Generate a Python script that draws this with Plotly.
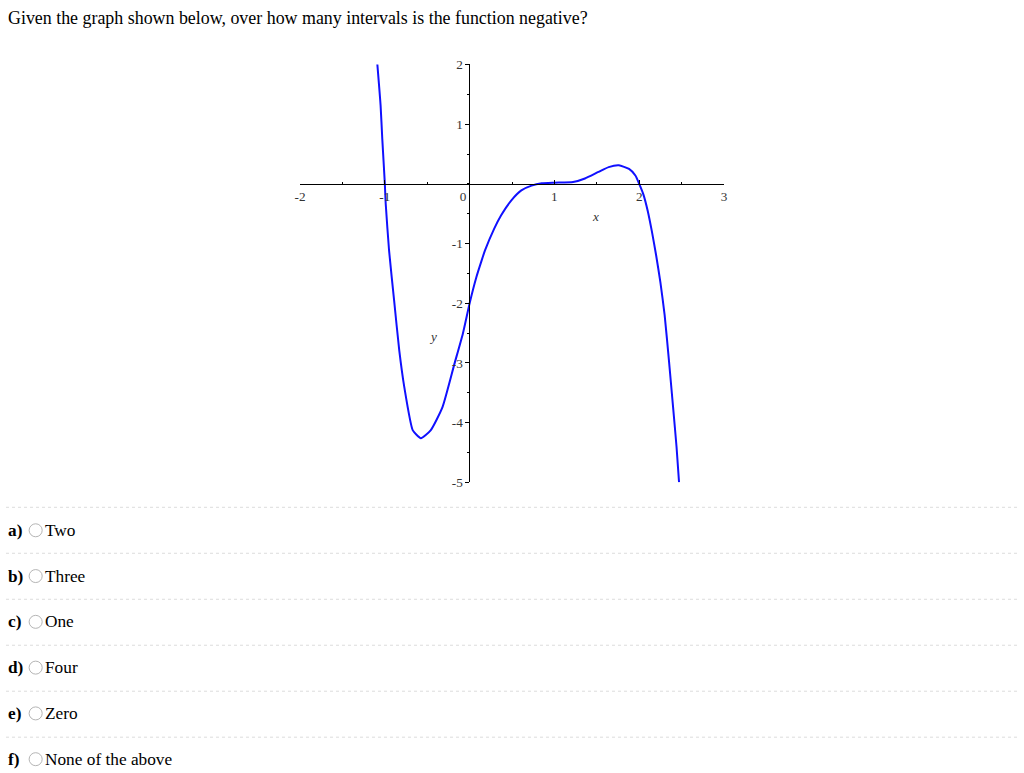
import plotly.graph_objects as go

W, H = 1024, 773
SERIF = "Liberation Serif, Times New Roman, serif"

# curve
curve_x = [-1.09, -1.05, -1.03, -1.00, -0.99, -0.95, -0.89, -0.83, -0.77, -0.67,
           -0.575, -0.46, -0.32, -0.18, -0.08, 0.0, 0.08, 0.14, 0.18, 0.29,
           0.37, 0.49, 0.61, 0.73, 0.85, 1.0, 1.22, 1.36, 1.52, 1.64,
           1.76, 1.88, 1.955, 2.0, 2.05, 2.10, 2.15, 2.20, 2.25, 2.30,
           2.35, 2.40, 2.44, 2.47]
curve_y = [2.03, 1.31, 0.75, 0.0, -0.33, -1.12, -1.96, -2.79, -3.41, -4.13,
           -4.26, -4.13, -3.74, -3.02, -2.51, -2.0, -1.56, -1.29, -1.12, -0.75,
           -0.53, -0.28, -0.11, -0.03, 0.01, 0.02, 0.03, 0.09, 0.2, 0.28,
           0.31, 0.25, 0.14, 0.0, -0.18, -0.45, -0.80, -1.20, -1.65, -2.20,
           -2.95, -3.75, -4.40, -5.0]

x_ticks = [-2, -1, 0, 1, 2, 3]
x_labels = ["-2", "-1", "0\u2003", "1", "2", "3"]
y_ticks = [-5, -4, -3, -2, -1, 1, 2]
y_labels = ["-5", "-4", "-3", "-2", "-1", "1", "2"]

question = "Given the graph shown below, over how many intervals is the function negative?"
letters = ["a)", "b)", "c)", "d)", "e)", "f)"]
answers = ["Two", "Three", "One", "Four", "Zero", "None of the above"]

# the photo of the page comes out slightly shrunk with a small border,
# so positions measured on the reference get mapped back through that
AX, SX, AY, SY = 7.5, 0.985, 6.5, 0.981
FS = 1 / 0.983


def px(v):
    return min(1, max(0, (v - AX) / SX / W))


def py(v):
    return 1 - (v - AY) / SY / H


fig = go.Figure()
fig.add_trace(go.Scatter(
    x=curve_x, y=curve_y, mode="lines",
    line=dict(color="#1010ff", width=2, shape="spline", smoothing=0.5),
    showlegend=False, hoverinfo="skip",
))

tick_font = dict(family=SERIF, size=13 * FS, color="#333")

# axes crossing at the origin
fig.update_xaxes(
    domain=[px(300), px(721.7)], range=[-2, 3], anchor="free", position=py(183.3),
    showline=True, linecolor="black", linewidth=1, zeroline=False, showgrid=False,
    ticks="inside", ticklen=4, tickcolor="black", tickvals=x_ticks, ticktext=x_labels,
    minor=dict(dtick=0.5, ticks="inside", ticklen=2, tickcolor="black", showgrid=False),
    tickfont=tick_font,
)
fig.update_yaxes(
    domain=[py(482), py(64)], range=[-5, 2], anchor="free", position=px(468.5),
    showline=True, linecolor="black", linewidth=1, zeroline=False, showgrid=False,
    ticks="outside", ticklen=4, tickcolor="black", tickvals=y_ticks, ticktext=y_labels,
    minor=dict(dtick=0.5, ticks="outside", ticklen=2, tickcolor="black", showgrid=False),
    tickfont=tick_font,
)

annotations = [
    dict(x=1.49, y=-0.55, xref="x", yref="y", text="<i>x</i>", showarrow=False,
         font=tick_font),
    dict(x=-0.43, y=-2.55, xref="x", yref="y", text="<i>y</i>", showarrow=False,
         font=tick_font),
    dict(x=px(6), y=py(18), xref="paper", yref="paper", xanchor="left", yanchor="middle",
         text=question, showarrow=False,
         font=dict(family=SERIF, size=17.6 * FS, color="black")),
]

shapes = []
for i, (let, ans) in enumerate(zip(letters, answers)):
    cy = 530 + 45.8 * i
    sep = 507 + 46 * i
    shapes.append(dict(type="line", xref="paper", yref="paper",
                       x0=0, x1=px(1020), y0=py(sep), y1=py(sep),
                       line=dict(color="#dcdcdc", width=1, dash="dot")))
    shapes.append(dict(type="circle", xref="paper", yref="paper",
                       x0=px(30.5), x1=px(43.5), y0=py(cy - 6.5), y1=py(cy + 6.5),
                       line=dict(color="#b5b5b5", width=1), fillcolor="white"))
    annotations.append(dict(x=px(7), y=py(cy), xref="paper", yref="paper",
                            xanchor="left", yanchor="middle", text="<b>" + let + "</b>",
                            showarrow=False,
                            font=dict(family=SERIF, size=17 * FS, color="black")))
    annotations.append(dict(x=px(44.5), y=py(cy), xref="paper", yref="paper",
                            xanchor="left", yanchor="middle", text=ans, showarrow=False,
                            font=dict(family=SERIF, size=17 * FS, color="black")))

fig.update_layout(
    width=W, height=H, margin=dict(l=0, r=0, t=0, b=0),
    paper_bgcolor="white", plot_bgcolor="white",
    annotations=annotations, shapes=shapes,
)

fig.write_html(
    "out.html",
    config={"displayModeBar": False, "staticPlot": True},
    post_script=("document.documentElement.style.margin='0';"
                 "document.documentElement.style.padding='0';"
                 "document.body.style.margin='0';document.body.style.padding='0';"
                 "document.body.style.overflow='hidden';"),
)
